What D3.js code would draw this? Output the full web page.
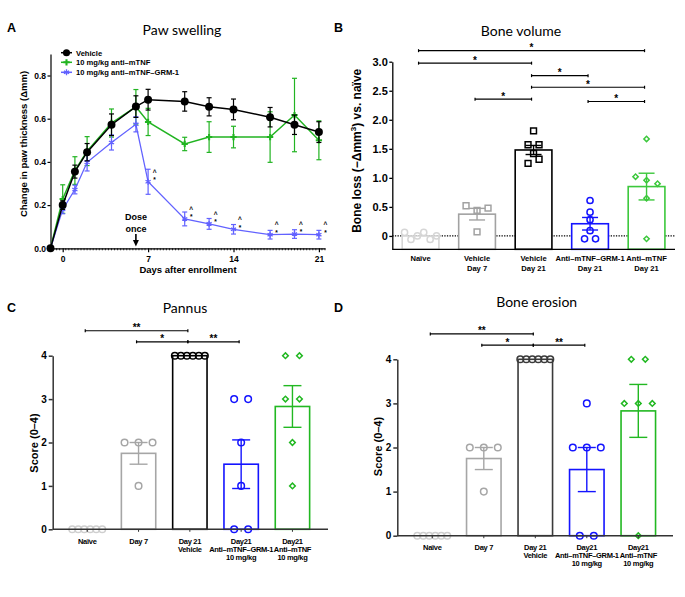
<!DOCTYPE html>
<html>
<head>
<meta charset="utf-8">
<script src="https://cdn.jsdelivr.net/npm/d3@7/dist/d3.min.js"></script>
<style>
body{margin:0;background:#fff;}
svg{display:block;}
text{font-family:"Liberation Sans",Arial,Helvetica,sans-serif;font-weight:bold;fill:#000;}
text.title{font-family:Lato,"Open Sans",sans-serif;font-weight:normal;font-size:14px;}
</style>
</head>
<body>
<svg id="fig" width="685" height="597"></svg>
<script>
// ===== Panel A: paw swelling (mean ± SEM) =====
const days        = [-1, 0, 1, 2, 4, 6, 7, 10, 12, 14, 17, 19, 21];
const vehicleMean = [0, 0.200, 0.355, 0.445, 0.572, 0.656, 0.688, 0.680, 0.655, 0.643, 0.607, 0.572, 0.538];
const vehicleSem  = [0, 0.020, 0.030, 0.040, 0.050, 0.050, 0.048, 0.045, 0.042, 0.048, 0.045, 0.045, 0.048];
const antiTnfMean = [0, 0.228, 0.360, 0.450, 0.580, 0.655, 0.585, 0.483, 0.515, 0.515, 0.515, 0.617, 0.500];
const antiTnfSem  = [0, 0.066, 0.064, 0.067, 0.065, 0.080, 0.063, 0.031, 0.071, 0.050, 0.117, 0.170, 0.090];
const grmMean     = [0, 0.180, 0.272, 0.398, 0.490, 0.574, 0.308, 0.136, 0.113, 0.088, 0.063, 0.066, 0.063];
const grmSem      = [0, 0.020, 0.020, 0.040, 0.035, 0.035, 0.058, 0.032, 0.025, 0.022, 0.020, 0.020, 0.020];
const sigDays     = [7, 10, 12, 14, 17, 19, 21];
const pawTicks    = [0, 0.2, 0.4, 0.6, 0.8];
const dayTicks    = [0, 7, 14, 21];
const legendNames = ["Vehicle", "10 mg/kg anti–mTNF", "10 mg/kg anti–mTNF–GRM-1"];

// ===== Panel B: bone volume =====
const boneLabels = [["Naïve"], ["Vehicle", "Day 7"], ["Vehicle", "Day 21"], ["Anti–mTNF–GRM-1", "Day 21"], ["Anti–mTNF", "Day 21"]];
const boneMean   = [0, 0.375, 1.48, 0.21, 0.85];
const boneSem    = [0, 0.10, 0.078, 0.108, 0.23];
const bonePoints = [
  [0.06, -0.06, 0, 0.06, -0.06, 0],
  [0.52, 0.44, 0.48, 0.07],
  [1.81, 1.57, 1.57, 1.42, 1.25, 1.32],
  [0.61, 0.41, 0.28, 0.09, -0.05, -0.05],
  [1.67, 1.02, 0.96, 0.90, 0.65, -0.05]
];
const boneTicks = [0, 0.5, 1.0, 1.5, 2.0, 2.5, 3.0];
const boneSig   = [[0, 4, "*"], [0, 2, "*"], [2, 3, "*"], [2, 4, "*"], [1, 2, "*"], [3, 4, "*"]];
const boneSigLevel = [3.19, 2.975, 2.76, 2.56, 2.355, 2.315];

// ===== Panels C & D: histology scores =====
const scoreLabels = [["Naïve"], ["Day 7"], ["Day 21", "Vehicle"], ["Day21", "Anti–mTNF–GRM-1", "10 mg/kg"], ["Day21", "Anti–mTNF", "10 mg/kg"]];
const pannusMean   = [0, 1.75, 4, 1.5, 2.83];
const pannusSem    = [0, 0.25, 0, 0.56, 0.48];
const pannusPoints = [[0,0,0,0,0,0], [2,2,2,1], [4,4,4,4,4,4], [3,3,2,1,0,0], [4,4,3,3,2,1]];
const erosionMean   = [0, 1.75, 4, 1.5, 2.83];
const erosionSem    = [0, 0.25, 0, 0.5, 0.6];
const erosionPoints = [[0,0,0,0,0,0], [2,2,2,1], [4,4,4,4,4,4], [3,2,2,2,0,0], [4,4,3,3,3,0]];
const scoreTicks = [0, 1, 2, 3, 4];
const scoreSig = [[0, 2, "**"], [1, 2, "*"], [2, 3, "**"]];
const scoreSigLevel = [4.575, 4.32, 4.32];

// ---------------------------------------------------------------
const svg = d3.select("#fig");
svg.append("rect").attr("width", 685).attr("height", 597).attr("fill", "#fff");

function txt(g, x, y, s, size, anchor = "middle") {
  return g.append("text").attr("x", x).attr("y", y).attr("font-size", size)
    .attr("text-anchor", anchor).text(s);
}
function stack(g, x, ys, lines, size) {
  const t = g.append("text").attr("font-size", size).attr("text-anchor", "middle");
  lines.forEach((l, j) => t.append("tspan").attr("x", x).attr("y", ys[j]).text(l));
  return t;
}
function styleAxis(g, size, color = "#000", w = 1.2) {
  g.attr("font-size", size).attr("font-family", null);
  g.selectAll("path,line").attr("stroke", color).attr("stroke-width", w);
  g.selectAll("text").attr("fill", "#000");
}

// ================= Panel A =================
const A = svg.append("g");
const xA = d3.scaleLinear().domain([-1, 21.5]).range([50.5, 325]);
const yA = d3.scaleLinear().domain([0, 0.9]).range([248.3, 53.9]);

txt(A, 7, 32.3, "A", 12.5, "start");
A.append("text").attr("class", "title").attr("x", 182).attr("y", 34.5).attr("text-anchor", "middle").text("Paw swelling");

const yAxA = A.append("g").attr("transform", `translate(${xA.range()[0]},0)`)
  .call(d3.axisLeft(yA).tickValues(pawTicks).tickSize(3).tickPadding(1.5).tickSizeOuter(0).tickFormat(d3.format(".1f")));
styleAxis(yAxA, 8.5);
const xAxA = A.append("g").attr("transform", `translate(0,${yA(0)})`)
  .call(d3.axisBottom(xA).tickValues(dayTicks).tickSize(4).tickPadding(4).tickSizeOuter(0).tickFormat(d3.format("d")));
styleAxis(xAxA, 8.5);
A.append("g").selectAll("line").data(d3.range(-1, 21.51, 0.25).filter(d => !dayTicks.includes(d)))
  .join("line").attr("x1", d => xA(d)).attr("x2", d => xA(d))
  .attr("y1", yA(0)).attr("y2", yA(0) + 2).attr("stroke", "#000").attr("stroke-width", 0.8);

txt(A, 0, 0, "Change in paw thickness (Δmm)", 9.5).attr("transform", "translate(26.5,144) rotate(-90)");
txt(A, 188, 273.3, "Days after enrollment", 9.5);

const seriesA = [
  {mean: antiTnfMean, sem: antiTnfSem, color: "#22b422", sym: d3.symbolCross, size: 22, fill: true, lw: 1.5, cap: 5},
  {mean: grmMean, sem: grmSem, color: "#6262ff", sym: d3.symbolAsterisk, size: 24, fill: false, lw: 1.3, cap: 5},
  {mean: vehicleMean, sem: vehicleSem, color: "#000", sym: d3.symbolCircle, size: 50, fill: true, lw: 1.5, cap: 5}
];
seriesA.forEach(s => {
  const g = A.append("g");
  const idx = d3.range(days.length);
  g.selectAll("line.eb").data(idx.filter(i => s.sem[i] > 0)).join("line")
    .attr("x1", i => xA(days[i])).attr("x2", i => xA(days[i]))
    .attr("y1", i => yA(s.mean[i] - s.sem[i])).attr("y2", i => yA(s.mean[i] + s.sem[i]))
    .attr("stroke", s.color).attr("stroke-width", 1.2);
  [-1, 1].forEach(sg => {
    g.selectAll("line.cap" + sg).data(idx.filter(i => s.sem[i] > 0)).join("line")
      .attr("x1", i => xA(days[i]) - s.cap / 2).attr("x2", i => xA(days[i]) + s.cap / 2)
      .attr("y1", i => yA(s.mean[i] + sg * s.sem[i])).attr("y2", i => yA(s.mean[i] + sg * s.sem[i]))
      .attr("stroke", s.color).attr("stroke-width", 1.2);
  });
  g.append("path").datum(s.mean)
    .attr("d", d3.line().x((d, i) => xA(days[i])).y(d => yA(d)))
    .attr("fill", "none").attr("stroke", s.color).attr("stroke-width", s.lw);
  g.selectAll("path.m").data(idx).join("path").attr("class", "m")
    .attr("transform", i => `translate(${xA(days[i])},${yA(s.mean[i])})`)
    .attr("d", d3.symbol(s.sym, s.size))
    .attr("fill", s.fill ? s.color : "none").attr("stroke", s.color).attr("stroke-width", s.fill ? 0 : 1.3);
});

// significance marks on GRM series (caret over asterisk)
sigDays.forEach(d => {
  const i = days.indexOf(d);
  const px = xA(d) + 6.5, py = yA(grmMean[i]);
  stack(A, px, [py - 7.2, py + 0.4], ["^", "*"], 6.5);
});

// dose annotation
stack(A, xA(6), [220, 232.3], ["Dose", "once"], 9);
A.append("line").attr("x1", xA(6)).attr("x2", xA(6)).attr("y1", 234).attr("y2", 241)
  .attr("stroke", "#000").attr("stroke-width", 1.6);
A.append("path").attr("d", `M${xA(6) - 3},240 L${xA(6) + 3},240 L${xA(6)},246.5 Z`).attr("fill", "#000");

// legend
const legY = [52.7, 62.3, 72.3];
const legSeries = [seriesA[2], seriesA[0], seriesA[1]];
legSeries.forEach((s, k) => {
  const y = legY[k];
  A.append("line").attr("x1", 61).attr("x2", 72).attr("y1", y).attr("y2", y).attr("stroke", s.color).attr("stroke-width", 1.5);
  A.append("path").attr("transform", `translate(66.5,${y})`).attr("d", d3.symbol(s.sym, k === 0 ? 40 : s.size))
    .attr("fill", s.fill ? s.color : "none").attr("stroke", s.color).attr("stroke-width", s.fill ? 0 : 1.3);
  txt(A, 76, y + 2.8, legendNames[k], 7.6, "start");
});

// ================= helpers for bar panels =================
function layoutOffsets(vals, yS, spacing, maxW, thr) {
  const order = vals.map((v, i) => i).sort((a, b) => vals[b] - vals[a] || a - b);
  const clusters = []; let cur = [];
  order.forEach(i => {
    if (cur.length && Math.abs(yS(vals[i]) - yS(vals[cur[cur.length - 1]])) > thr) { clusters.push(cur); cur = []; }
    cur.push(i);
  });
  if (cur.length) clusters.push(cur);
  const off = new Array(vals.length).fill(0);
  clusters.forEach(c => {
    c.sort((a, b) => a - b);
    const n = c.length, s = n > 1 ? Math.min(spacing, maxW / (n - 1)) : 0;
    c.forEach((i, k) => off[i] = (k - (n - 1) / 2) * s);
  });
  return off;
}
function symPath(shape, size) {
  if (shape === "square" || shape === "diamond") return d3.symbol(d3.symbolSquare, size)();
  return d3.symbol(d3.symbolCircle, size)();
}
function drawBars(g, c) {
  const base = c.y.range()[0];
  c.means.forEach((m, i) => {
    g.append("rect").attr("x", c.x(i)).attr("y", c.y(m)).attr("width", c.x.bandwidth())
      .attr("height", Math.max(0, base - c.y(m))).attr("fill", "#fff")
      .attr("stroke", c.colors[i]).attr("stroke-width", c.barW);
  });
  c.means.forEach((m, i) => {
    const cx = c.x(i) + c.x.bandwidth() / 2, col = c.colors[i], s = c.sems[i];
    if (s > 0) {
      g.append("line").attr("x1", cx).attr("x2", cx).attr("y1", c.y(m - s)).attr("y2", c.y(m + s))
        .attr("stroke", col).attr("stroke-width", 1.4);
      [m - s, m + s].forEach(v => g.append("line").attr("x1", cx - c.capW / 2).attr("x2", cx + c.capW / 2)
        .attr("y1", c.y(v)).attr("y2", c.y(v)).attr("stroke", col).attr("stroke-width", 1.4));
    }
  });
  c.points.forEach((pts, i) => {
    const cx = c.x(i) + c.x.bandwidth() / 2, col = c.colors[i];
    const off = layoutOffsets(pts, c.y, c.spacing, c.maxW, c.thr);
    const shape = c.shapes[i];
    pts.forEach((v, k) => {
      g.append("path").attr("d", symPath(shape, c.symSize[shape]))
        .attr("transform", `translate(${cx + off[k]},${c.y(v)})` + (shape === "diamond" ? " rotate(45)" : ""))
        .attr("fill", "none").attr("stroke", col).attr("stroke-width", c.ptW);
    });
  });
}
function bracket(g, x1, x2, y, label, size) {
  g.append("line").attr("x1", x1).attr("x2", x2).attr("y1", y).attr("y2", y).attr("stroke", "#000").attr("stroke-width", 1.2);
  [x1, x2].forEach(x => g.append("line").attr("x1", x).attr("x2", x).attr("y1", y - 1.5).attr("y2", y + 1.5)
    .attr("stroke", "#000").attr("stroke-width", 1.2));
  txt(g, (x1 + x2) / 2, y + 0.5, label, size);
}

// ================= Panel B =================
const B = svg.append("g");
const xB = d3.scaleBand().domain(d3.range(boneMean.length)).range([392.3, 674.8]).paddingInner(0.35).paddingOuter(0.175);
const yB = d3.scaleLinear().domain([-0.23, 3.0]).range([249.3, 61.7]);
txt(B, 334, 32.3, "B", 12.5, "start");
B.append("text").attr("class", "title").attr("x", 521).attr("y", 35.5).attr("text-anchor", "middle").text("Bone volume");

B.append("line").attr("x1", 392.3).attr("x2", 675).attr("y1", yB(0)).attr("y2", yB(0))
  .attr("stroke", "#000").attr("stroke-width", 1.3).attr("stroke-dasharray", "1.3,1.3");
drawBars(B, {
  x: xB, y: yB, means: boneMean, sems: boneSem, points: bonePoints,
  colors: ["#d6d6d6", "#a2a2a2", "#000", "#1414ff", "#3cc83c"],
  shapes: ["circle", "square", "square", "circle", "diamond"],
  symSize: {circle: 30, square: 34, diamond: 14},
  barW: 1.6, capW: 16, spacing: 11, maxW: 32, thr: 5, ptW: 1.5
});
const yAxB = B.append("g").attr("transform", "translate(392.3,0)")
  .call(d3.axisLeft(yB).tickValues(boneTicks).tickSize(3).tickPadding(1.5).tickSizeOuter(0)
    .tickFormat(d => d === 0 ? "0" : d3.format(".1f")(d)));
styleAxis(yAxB, 11, "#000", 1.3);
B.append("line").attr("x1", 392.3).attr("x2", 675).attr("y1", yB.range()[0]).attr("y2", yB.range()[0])
  .attr("stroke", "#000").attr("stroke-width", 1.3);
boneSig.forEach((s, k) => bracket(B, xB(s[0]) + xB.bandwidth() / 2 - 2, xB(s[1]) + xB.bandwidth() / 2 - 2, yB(boneSigLevel[k]), s[2], 10));
boneLabels.forEach((lines, i) => stack(B, xB(i) + xB.bandwidth() / 2, lines.map((l, j) => 261.3 + j * 9.4), lines, 7.6));
const ylB = B.append("text").attr("font-size", 12).attr("text-anchor", "middle")
  .attr("transform", "translate(360.5,150.8) rotate(-90)");
ylB.append("tspan").text("Bone loss (−Δmm");
ylB.append("tspan").attr("font-size", 8).attr("dy", -4.5).text("3");
ylB.append("tspan").attr("dy", 4.5).text(") vs. naïve");

// ================= Panels C & D =================
function scorePanel(cfg) {
  const g = svg.append("g");
  const x = d3.scaleBand().domain(d3.range(cfg.means.length)).range(cfg.xr).paddingInner(0.33).paddingOuter(0.165);
  const y = d3.scaleLinear().domain([0, 4]).range(cfg.yr);
  txt(g, cfg.letterX, cfg.letterY, cfg.letter, 12.5, "start");
  g.append("text").attr("class", "title").attr("x", cfg.titleX).attr("y", cfg.titleY).attr("text-anchor", "middle").text(cfg.title);
  drawBars(g, {
    x, y, means: cfg.means, sems: cfg.sems, points: cfg.points,
    colors: ["#cfcfcf", "#a6a6a6", cfg.day21Color, "#1414ff", "#22b822"],
    shapes: ["circle", "circle", "circle", "circle", "diamond"],
    symSize: {circle: 34, diamond: 16},
    barW: 1.6, capW: 18, spacing: 14, maxW: 30, thr: 5, ptW: 1.5
  });
  const ax = g.append("g").attr("transform", `translate(${cfg.axisX},0)`)
    .call(d3.axisLeft(y).tickValues(scoreTicks).tickSize(4).tickPadding(2).tickSizeOuter(0).tickFormat(d3.format("d")));
  styleAxis(ax, 10, "#333", 1.5);
  g.append("line").attr("x1", cfg.axisX).attr("x2", cfg.axisEnd).attr("y1", cfg.yr[0]).attr("y2", cfg.yr[0])
    .attr("stroke", "#333").attr("stroke-width", 1.5);
  cfg.means.forEach((m, i) => {
    const cx = x(i) + x.bandwidth() / 2;
    g.append("line").attr("x1", cx).attr("x2", cx).attr("y1", cfg.yr[0]).attr("y2", cfg.yr[0] + 2.5)
      .attr("stroke", "#333").attr("stroke-width", 1);
  });
  scoreSig.forEach((s, k) => bracket(g, x(s[0]) + x.bandwidth() / 2 - 2, x(s[1]) + x.bandwidth() / 2 - 2,
    y(scoreSigLevel[k]), s[2], 10));
  scoreLabels.forEach((lines, i) => stack(g, x(i) + x.bandwidth() / 2, lines.map((l, j) => cfg.labelY + j * 8), lines, 7.5)
    .attr("letter-spacing", -0.3));
  txt(g, 0, 0, "Score (0–4)", 11).attr("transform", `translate(${cfg.ylabX},${cfg.ylabY}) rotate(-90)`);
}
scorePanel({
  letter: "C", letterX: 7, letterY: 312.3, title: "Pannus", titleX: 185, titleY: 312.5,
  means: pannusMean, sems: pannusSem, points: pannusPoints, day21Color: "#000",
  xr: [61.6, 318.1], yr: [529.3, 355.7], axisX: 52.7, axisEnd: 328, labelY: 544,
  ylabX: 37.5, ylabY: 443
});
scorePanel({
  letter: "D", letterX: 334, letterY: 312.3, title: "Bone erosion", titleX: 536.7, titleY: 307,
  means: erosionMean, sems: erosionSem, points: erosionPoints, day21Color: "#3a3a3a",
  xr: [406.55, 664.05], yr: [535.7, 359.3], axisX: 397.3, axisEnd: 673, labelY: 550,
  ylabX: 382, ylabY: 446.5
});
</script>
</body>
</html>
